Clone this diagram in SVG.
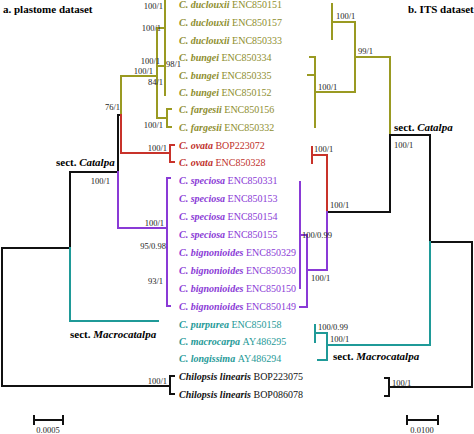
<svg xmlns="http://www.w3.org/2000/svg" width="474" height="434" viewBox="0 0 474 434">
<style>
.ln{fill:none;stroke-width:2;stroke-linecap:square}
.k{stroke:#111}.o{stroke:#9a9a22}.r{stroke:#c8322a}.p{stroke:#8a3ad6}.t{stroke:#1f9a98}
.lf{font-family:"Liberation Serif",serif;font-size:10px}
.sp{font-weight:bold;font-style:italic}
.to{fill:#8e8e2e}.tr{fill:#c0302a}.tp{fill:#8a3ad6}.tt{fill:#1f9a98}.tk{fill:#111}
.sup{font-family:"Liberation Serif",serif;font-size:8.5px;fill:#222}
.sect{font-family:"Liberation Serif",serif;font-size:11px;font-weight:bold;fill:#000}
.ttl{font-family:"Liberation Serif",serif;font-size:11px;font-weight:bold;fill:#000}
</style>
<rect width="474" height="434" fill="#fff"/>
<g id="titles">
<text class="ttl" x="3" y="13">a. plastome dataset</text>
<text class="ttl" x="408" y="13">b. ITS dataset</text>
</g>
<g id="connectors">
<!-- left tree -->
<path class="ln k" d="M2 248 V386 H170 M2 248 H70 V172 H118 V115 H121 M174 376 H170 V394 H174"/>
<path class="ln o" d="M121 115 V76 H157 M157 28 V118 H167 M157 28 H165 M165 1 V95 M157 66 H165 M171 109 H167 V127 H171"/>
<path class="ln r" d="M121 115 V153 H170 M174 145 H170 V162 H174"/>
<path class="ln p" d="M118 172 V228 H167 M170 178 H167 V306 H170"/>
<path class="ln t" d="M70 248 V321 H158"/>
<!-- right tree -->
<path class="ln o" d="M332 4 V39 M332 22 H355 V92 M355 57 H390 V135 M315 92 H355 M310 57 H315 V127 M308 75 H315"/>
<path class="ln k" d="M390 135 H430 V242 H472 V387 H389 M390 135 V212 H327 M385 378 H389 V396 H385"/>
<path class="ln r" d="M327 212 V155 H312 M312 147 V163"/>
<path class="ln p" d="M327 212 V270 H307 M307 235 V307 H300 M300 182 V288 M300 235 H307"/>
<path class="ln t" d="M430 242 V345 H327 M327 333 V360 H318 M315 325 V342 M315 333 H327"/>
<!-- scale bars -->
<path class="ln k" d="M34 420 H63 M34 416 V424 M63 416 V424 M407 420 H438 M407 416 V424 M438 416 V424"/>
</g>
<g id="leaves" class="lf">
<text x="179" y="8" class="to"><tspan class="sp">C. duclouxii </tspan>ENC850151</text>
<text x="179" y="26" class="to"><tspan class="sp">C. duclouxii </tspan>ENC850157</text>
<text x="179" y="44" class="to"><tspan class="sp">C. duclouxii </tspan>ENC850333</text>
<text x="179" y="61" class="to"><tspan class="sp">C. bungei </tspan>ENC850334</text>
<text x="179" y="79" class="to"><tspan class="sp">C. bungei </tspan>ENC850335</text>
<text x="179" y="96" class="to"><tspan class="sp">C. bungei </tspan>ENC850152</text>
<text x="179" y="113" class="to"><tspan class="sp">C. fargesii </tspan>ENC850156</text>
<text x="179" y="131" class="to"><tspan class="sp">C. fargesii </tspan>ENC850332</text>
<text x="179" y="149" class="tr"><tspan class="sp">C. ovata </tspan>BOP223072</text>
<text x="179" y="166" class="tr"><tspan class="sp">C. ovata </tspan>ENC850328</text>
<text x="179" y="184" class="tp"><tspan class="sp">C. speciosa </tspan>ENC850331</text>
<text x="179" y="202" class="tp"><tspan class="sp">C. speciosa </tspan>ENC850153</text>
<text x="179" y="220" class="tp"><tspan class="sp">C. speciosa </tspan>ENC850154</text>
<text x="179" y="238" class="tp"><tspan class="sp">C. speciosa </tspan>ENC850155</text>
<text x="179" y="256" class="tp"><tspan class="sp">C. bignonioides </tspan>ENC850329</text>
<text x="179" y="274" class="tp"><tspan class="sp">C. bignonioides </tspan>ENC850330</text>
<text x="179" y="292" class="tp"><tspan class="sp">C. bignonioides </tspan>ENC850150</text>
<text x="179" y="310" class="tp"><tspan class="sp">C. bignonioides </tspan>ENC850149</text>
<text x="179" y="328" class="tt"><tspan class="sp">C. purpurea </tspan>ENC850158</text>
<text x="179" y="345" class="tt"><tspan class="sp">C. macrocarpa </tspan>AY486295</text>
<text x="179" y="362" class="tt"><tspan class="sp">C. longissima </tspan>AY486294</text>
<text x="179" y="380" class="tk"><tspan class="sp">Chilopsis linearis </tspan>BOP223075</text>
<text x="179" y="398" class="tk"><tspan class="sp">Chilopsis linearis </tspan>BOP086078</text>
</g>
<g id="support-left" class="sup" text-anchor="end">
<text x="163" y="9">100/1</text>
<text x="161" y="31">100/1</text>
<text x="160" y="64">100/1</text>
<text x="153" y="74">100/1</text>
<text x="163" y="85">84/1</text>
<text x="120" y="110">76/1</text>
<text x="163" y="128">100/1</text>
<text x="167" y="151">100/1</text>
<text x="110" y="184">100/1</text>
<text x="164" y="226">100/1</text>
<text x="166" y="249">95/0.98</text>
<text x="163" y="284">93/1</text>
<text x="167" y="384">100/1</text>
</g>
<g id="support-98" class="sup"><text x="166" y="67">98/1</text></g>
<g id="support-right" class="sup">
<text x="336" y="19">100/1</text>
<text x="358" y="54">99/1</text>
<text x="318" y="90">100/1</text>
<text x="394" y="148">100/1</text>
<text x="314" y="152">100/1</text>
<text x="330" y="208">100/1</text>
<text x="302" y="238">100/0.99</text>
<text x="311" y="281">100/1</text>
<text x="318" y="330">100/0.99</text>
<text x="330" y="342">100/1</text>
<text x="392" y="386">100/1</text>
</g>
<g id="sect-labels">
<text class="sect" x="56" y="166">sect. <tspan font-style="italic">Catalpa</tspan></text>
<text class="sect" x="70" y="338">sect. <tspan font-style="italic">Macrocatalpa</tspan></text>
<text class="sect" x="394" y="131">sect. <tspan font-style="italic">Catalpa</tspan></text>
<text class="sect" x="333" y="360">sect. <tspan font-style="italic">Macrocatalpa</tspan></text>
</g>
<g id="scales" class="sup" text-anchor="middle">
<text x="48" y="433">0.0005</text>
<text x="422" y="433">0.0100</text>
</g>
</svg>
